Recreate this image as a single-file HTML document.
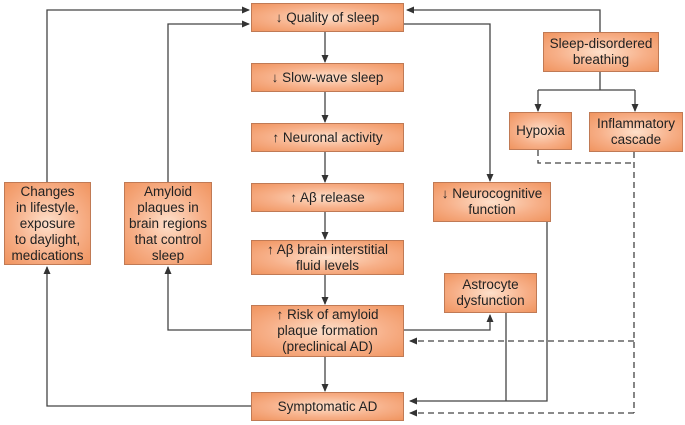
<!DOCTYPE html>
<html><head><style>
body{margin:0;background:#fff;}
.b{position:absolute;box-sizing:border-box;border:1px solid #c07a55;background:radial-gradient(ellipse at center,#fde0cb 0%,#f7b089 55%,#f0945f 100%);font-family:"Liberation Sans",sans-serif;font-size:13.5px;color:#222;display:flex;align-items:center;justify-content:center;text-align:center;line-height:16px;}
</style></head><body>
<div style="position:relative;width:685px;height:425px;overflow:hidden">
<svg width="685" height="425" style="position:absolute;left:0;top:0">
<defs><marker id="a" markerWidth="8" markerHeight="8" refX="7" refY="4" orient="auto" markerUnits="userSpaceOnUse"><path d="M0,0.5 L8,4 L0,7.5z" fill="#333"/></marker></defs>
<g stroke="#444" stroke-width="1.3" fill="none">
<path d="M47,182 V10 H249" marker-end="url(#a)"/>
<path d="M168,182 V24 H249" marker-end="url(#a)"/>
<path d="M600,32 V10 H407" marker-end="url(#a)"/>
<path d="M404,24 H490 V181" marker-end="url(#a)"/>
<path d="M538,90 H635 M600,72 V90"/>
<path d="M538,90 V111" marker-end="url(#a)"/><path d="M635,90 V111" marker-end="url(#a)"/>
<path d="M325,32 V62" marker-end="url(#a)"/>
<path d="M325,92 V122" marker-end="url(#a)"/>
<path d="M325,152 V182" marker-end="url(#a)"/>
<path d="M325,212 V239" marker-end="url(#a)"/>
<path d="M325,275 V304" marker-end="url(#a)"/>
<path d="M325,357 V391" marker-end="url(#a)"/>
<path d="M404,330 H490 V315" marker-end="url(#a)"/>
<path d="M251,330 H168 V267" marker-end="url(#a)"/>
<path d="M251,406 H47 V267" marker-end="url(#a)"/>
<path d="M506,313 V401 M547,222 V401 H410" marker-end="url(#a)"/>
</g>
<g stroke="#444" stroke-width="1.3" fill="none" stroke-dasharray="6,4">
<path d="M538,150 V163 H634"/>
<path d="M634,152 V413"/>
<path d="M634,341 H410" marker-end="url(#a)"/>
<path d="M634,413 H410" marker-end="url(#a)"/>
</g>
</svg>
<div class="b" style="left:251px;top:3px;width:153px;height:29px">↓ Quality of sleep</div>
<div class="b" style="left:251px;top:63px;width:153px;height:29px">↓ Slow-wave sleep</div>
<div class="b" style="left:251px;top:123px;width:153px;height:29px">↑ Neuronal activity</div>
<div class="b" style="left:251px;top:183px;width:153px;height:29px">↑ Aβ release</div>
<div class="b" style="left:251px;top:240px;width:153px;height:35px">↑ Aβ brain interstitial<br>fluid levels</div>
<div class="b" style="left:251px;top:305px;width:153px;height:52px">↑ Risk of amyloid<br>plaque formation<br>(preclinical AD)</div>
<div class="b" style="left:251px;top:392px;width:153px;height:29px">Symptomatic AD</div>
<div class="b" style="left:4px;top:182px;width:87px;height:83px">Changes<br>in lifestyle,<br>exposure<br>to daylight,<br>medications</div>
<div class="b" style="left:124px;top:182px;width:88px;height:83px">Amyloid<br>plaques in<br>brain regions<br>that control<br>sleep</div>
<div class="b" style="left:543px;top:32px;width:116px;height:40px">Sleep-disordered<br>breathing</div>
<div class="b" style="left:509px;top:112px;width:63px;height:38px">Hypoxia</div>
<div class="b" style="left:589px;top:112px;width:94px;height:40px">Inflammatory<br>cascade</div>
<div class="b" style="left:433px;top:182px;width:118px;height:40px">↓ Neurocognitive<br>function</div>
<div class="b" style="left:444px;top:273px;width:93px;height:40px">Astrocyte<br>dysfunction</div>
</div>
</body></html>
